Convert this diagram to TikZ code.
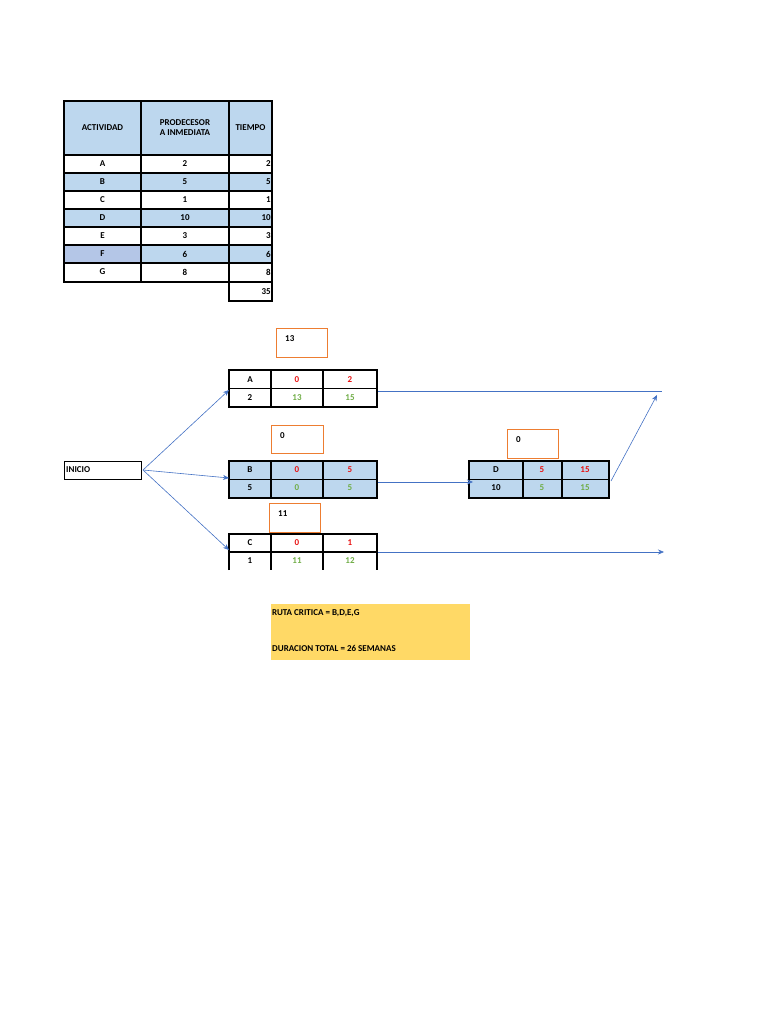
\documentclass[tikz,border=0pt]{standalone}
\usepackage{fontspec}
\setmainfont{Carlito}
\usetikzlibrary{arrows.meta}
\definecolor{lb}{HTML}{BDD7EE}
\definecolor{db}{HTML}{B4C6E7}
\definecolor{rd}{HTML}{E81010}
\definecolor{gr}{HTML}{70AD47}
\definecolor{org}{HTML}{ED7D31}
\definecolor{yl}{HTML}{FFD966}
\definecolor{ar}{HTML}{4472C4}
\tikzset{cell/.style={draw=black,line width=1.3pt},
 t/.style={font=\bfseries\fontsize{9}{10}\selectfont,inner sep=0pt},
 ob/.style={draw=org,line width=0.8pt},
 conn/.style={draw=ar,line width=0.6pt,-{Stealth[length=6pt,width=5pt]}}}
\begin{document}
\begin{tikzpicture}[x=1pt,y=-1pt]
\useasboundingbox (0,0) rectangle (768,1024);
% table
\fill[lb] (64,101) rectangle (272,155);
\foreach \y in {173,209,245} \fill[lb] (64,\y) rectangle (272,\y+18);
\fill[db] (64,245) rectangle (141,263);
\draw[cell] (64,101) rectangle (272,282);
\draw[cell] (229,282) rectangle (272,301);
\foreach \x in {141,229} \draw[cell] (\x,101) -- (\x,282);
\foreach \y in {155,173,191,209,227,245,263} \draw[cell] (64,\y) -- (272,\y);
\node[t] (h1) at (102.5,128) {ACTIVIDAD};
\node[t,align=left] (h2) at (185,128) {PRODECESOR\\A INMEDIATA};
\begin{scope}
\clip (229,101) rectangle (272,155);
\node[t] (h3) at (250.5,128) {TIEMPO};
\end{scope}
\foreach \n/\a/\p/\tm [count=\i] in {A/--/2,B/--/5,C/--/1,D/B/10,E/{A,D}/3,F/C/6,G/{E,F}/8}{
 \node[t] (ra\i) at (102.5,146+18*\i) {\n};
 \node[t] (rp\i) at (185,146+18*\i) {\p};
 \node[t,anchor=east] (rt\i) at (271,146+18*\i) {\tm};
}
\node[t,anchor=east] (tot) at (271,292) {35};
% activity boxes
\newcommand{\actbox}[9]{% name x0 y0 x1 x2 x3 fill labels
}
\fill[lb] (229,461) rectangle (377,497);
\fill[lb] (469,461) rectangle (609,497);
\foreach \x/\y/\a/\b/\c in {229/370/271/323/377,229/461/271/323/377,469/461/523/562/609}{
 \draw[cell] (\x,\y) rectangle (\c,\y+37);
 \draw[cell] (\x,\y+18.5) -- (\c,\y+18.5);
 \draw[cell] (\a,\y) -- (\a,\y+37);
 \draw[cell] (\b,\y) -- (\b,\y+37);
}
\draw[cell] (229,570) -- (229,534) -- (377,534) -- (377,570);
\draw[cell] (229,552) -- (377,552);
\draw[cell] (271,534) -- (271,570);
\draw[cell] (323,534) -- (323,570);
% texts
\node[t] (an) at (250,380) {A}; \node[t,rd] at (297,380) {0}; \node[t,rd] at (350,380) {2};
\node[t] (ad) at (250,398) {2}; \node[t,gr] at (297,398) {13}; \node[t,gr] at (350,398) {15};
\node[t] (bn) at (250,470) {B}; \node[t,rd] at (297,470) {0}; \node[t,rd] at (350,470) {5};
\node[t] (bd) at (250,488) {5}; \node[t,gr] at (297,488) {0}; \node[t,gr] at (350,488) {5};
\node[t] (cn) at (250,543) {C}; \node[t,rd] at (297,543) {0}; \node[t,rd] at (350,543) {1};
\node[t] (cd) at (250,561) {1}; \node[t,gr] at (297,561) {11}; \node[t,gr] at (350,561) {12};
\node[t] (dn) at (496,470) {D}; \node[t,rd] at (542,470) {5}; \node[t,rd] at (585,470) {15};
\node[t] (dd) at (496,488) {10}; \node[t,gr] at (542,488) {5}; \node[t,gr] at (585,488) {15};
% orange slack boxes
\draw[ob] (276,328) rectangle (327,357); \node[t,anchor=west] (s1) at (285,339) {13};
\draw[ob] (271,425) rectangle (323,453); \node[t,anchor=west] (s2) at (280,436) {0};
\draw[ob] (269,503) rectangle (320,532); \node[t,anchor=west] (s3) at (278,514) {11};
\draw[ob] (507,429) rectangle (558,458); \node[t,anchor=west] (s4) at (516,440) {0};
% inicio
\draw[line width=1pt] (64,461) rectangle (141,479);
\node[t,anchor=west] (ini) at (66,470) {INICIO};
% coordinates
\coordinate (i0) at (143,470);
\coordinate (ain) at (229,390);
\coordinate (bin) at (229,478);
\coordinate (cin) at (229,550);
\coordinate (aout) at (378,391);
\coordinate (aend) at (662,391);
\coordinate (bout) at (378,482);
\coordinate (din) at (473,482);
\coordinate (dout) at (611,481);
\coordinate (eup) at (657,395);
\coordinate (cout) at (378,552);
\coordinate (cend) at (664,552);
\draw[conn] (i0) -- (ain);
\draw[conn] (i0) -- (bin);
\draw[conn] (i0) -- (cin);
\draw[draw=ar,line width=0.6pt] (aout) -- (aend);
\draw[conn] (bout) -- (din);
\draw[conn] (dout) -- (eup);
\draw[conn] (cout) -- (cend);
% yellow
\fill[yl] (271,604) rectangle (470,660);
\node[t,anchor=west] (rc) at (272,613) {RUTA CRITICA = B,D,E,G};
\node[t,anchor=west] (dt) at (272,648) {DURACION TOTAL = 26 SEMANAS};
\end{tikzpicture}
\end{document}
